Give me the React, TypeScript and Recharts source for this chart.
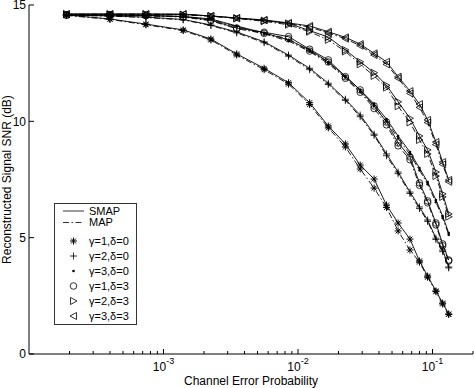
import { Legend, Line, LineChart, XAxis, YAxis } from 'recharts'

// channel error probability (x) shared by every curve
const errorProb = [
  1.9e-4, 4.0e-4, 7.4e-4, 1.4e-3, 2.25e-3, 3.5e-3, 5.6e-3, 8.5e-3, 0.0122, 0.0168, 0.0225,
  0.029, 0.0368, 0.0455, 0.0555, 0.068, 0.08, 0.092, 0.106, 0.119, 0.132,
]

// reconstructed SNR (dB), SMAP and MAP per (gamma, delta)
const g1d0Smap = [14.57, 14.4, 14.18, 13.93, 13.54, 12.9, 12.28, 11.66, 10.8, 9.8, 9.03, 8.12, 7.52, 6.4, 5.63, 4.94, 4.0, 3.35, 2.71, 2.19, 1.72]
const g1d0Map = [14.55, 14.38, 14.15, 13.9, 13.5, 12.85, 12.22, 11.6, 10.72, 9.72, 8.9, 7.95, 7.13, 6.3, 5.29, 4.47, 3.95, 3.3, 2.68, 2.15, 1.7]
const g2d0Smap = [14.57, 14.53, 14.48, 14.38, 14.14, 13.84, 13.42, 12.85, 12.28, 11.64, 10.95, 10.27, 9.45, 8.6, 7.82, 6.96, 6.32, 5.76, 4.98, 4.47, 3.74]
const g2d0Map = [14.56, 14.52, 14.46, 14.36, 14.12, 13.8, 13.38, 12.8, 12.22, 11.58, 10.9, 10.2, 9.4, 8.52, 7.75, 6.9, 6.25, 5.7, 4.92, 4.4, 3.7]
const g3d0Smap = [14.57, 14.57, 14.55, 14.51, 14.4, 14.1, 13.8, 13.5, 13.07, 12.55, 11.95, 11.35, 10.75, 10.1, 9.37, 8.68, 7.99, 7.39, 6.62, 5.93, 5.2]
const g3d0Map = [14.56, 14.56, 14.54, 14.5, 14.38, 14.07, 13.76, 13.45, 13.0, 12.48, 11.88, 11.27, 10.66, 10.0, 9.27, 8.58, 7.9, 7.3, 6.52, 5.85, 5.12]
const g1d3Smap = [14.57, 14.57, 14.55, 14.5, 14.35, 14.01, 13.83, 13.64, 13.1, 12.64, 11.92, 11.35, 10.66, 9.97, 9.07, 8.47, 7.35, 6.58, 5.63, 4.73, 4.04]
const g1d3Map = [14.56, 14.56, 14.54, 14.48, 14.32, 13.98, 13.78, 13.55, 13.02, 12.55, 11.85, 11.25, 10.55, 9.85, 8.95, 8.35, 7.25, 6.5, 5.55, 4.65, 4.0]
const g2d3Smap = [14.61, 14.61, 14.61, 14.59, 14.53, 14.44, 14.33, 14.21, 13.9, 13.62, 13.07, 12.56, 12.09, 11.55, 10.84, 10.13, 9.37, 8.77, 7.82, 6.88, 6.02]
const g2d3Map = [14.6, 14.6, 14.6, 14.58, 14.52, 14.42, 14.3, 14.15, 13.85, 13.5, 13.0, 12.45, 11.95, 11.45, 10.65, 9.95, 9.2, 8.6, 7.65, 6.75, 5.9]
const g3d3Smap = [14.61, 14.61, 14.61, 14.61, 14.53, 14.44, 14.36, 14.23, 14.1, 13.85, 13.61, 13.32, 12.92, 12.56, 11.92, 11.3, 10.74, 10.06, 9.11, 8.25, 7.48]
const g3d3Map = [14.6, 14.6, 14.6, 14.6, 14.52, 14.43, 14.34, 14.2, 14.05, 13.8, 13.55, 13.25, 12.85, 12.45, 11.85, 11.2, 10.6, 9.95, 9.0, 8.15, 7.4]

const xTicks = [
  2e-4, 3e-4, 4e-4, 5e-4, 6e-4, 7e-4, 8e-4, 9e-4, 1e-3,
  2e-3, 3e-3, 4e-3, 5e-3, 6e-3, 7e-3, 8e-3, 9e-3, 1e-2,
  2e-2, 3e-2, 4e-2, 5e-2, 6e-2, 7e-2, 8e-2, 9e-2, 1e-1, 2e-1,
]
const xMajor = [1e-3, 1e-2, 1e-1]
const yTicks = [0, 5, 10, 15]

type MarkerKind = 'star' | 'plus' | 'point' | 'circle' | 'right' | 'left'

const series: { key: string; label: string; marker: MarkerKind; smap: number[]; map: number[] }[] = [
  { key: 'g1d0', label: 'γ=1,δ=0', marker: 'star', smap: g1d0Smap, map: g1d0Map },
  { key: 'g2d0', label: 'γ=2,δ=0', marker: 'plus', smap: g2d0Smap, map: g2d0Map },
  { key: 'g3d0', label: 'γ=3,δ=0', marker: 'point', smap: g3d0Smap, map: g3d0Map },
  { key: 'g1d3', label: 'γ=1,δ=3', marker: 'circle', smap: g1d3Smap, map: g1d3Map },
  { key: 'g2d3', label: 'γ=2,δ=3', marker: 'right', smap: g2d3Smap, map: g2d3Map },
  { key: 'g3d3', label: 'γ=3,δ=3', marker: 'left', smap: g3d3Smap, map: g3d3Map },
]

const data = errorProb.map((p, i) => {
  const row: Record<string, number> = { p }
  series.forEach((s) => {
    row[`${s.key}S`] = s.smap[i]
    row[`${s.key}M`] = s.map[i]
  })
  return row
})

const FONT = '"Liberation Sans", Arial, sans-serif'
const INK = '#000'
const DASH_DOT = '6 2.5 1.5 2.5'

const Marker = ({ kind, cx, cy }: { kind: MarkerKind; cx: number; cy: number }) => {
  const s = 3.5
  const d = 2.5
  const common = { stroke: INK, strokeWidth: 0.8, fill: 'none' }
  switch (kind) {
    case 'star':
      return (
        <g {...common} strokeWidth={1}>
          <line x1={cx - s} y1={cy} x2={cx + s} y2={cy} />
          <line x1={cx} y1={cy - s} x2={cx} y2={cy + s} />
          <line x1={cx - d} y1={cy - d} x2={cx + d} y2={cy + d} />
          <line x1={cx - d} y1={cy + d} x2={cx + d} y2={cy - d} />
        </g>
      )
    case 'plus':
      return (
        <g {...common}>
          <line x1={cx - s} y1={cy} x2={cx + s} y2={cy} />
          <line x1={cx} y1={cy - s} x2={cx} y2={cy + s} />
        </g>
      )
    case 'point':
      return <circle cx={cx} cy={cy} r={1.3} fill={INK} />
    case 'circle':
      return <circle cx={cx} cy={cy} r={3.3} {...common} />
    case 'right':
      return <polygon points={`${cx - 3},${cy - s} ${cx + s},${cy} ${cx - 3},${cy + s}`} {...common} />
    default:
      return <polygon points={`${cx + 3},${cy - s} ${cx - s},${cy} ${cx + 3},${cy + s}`} {...common} />
  }
}

const BottomTick = ({ x, y, payload }: any) => {
  const major = xMajor.includes(payload.value)
  return (
    <g>
      <line x1={x} y1={y} x2={x} y2={y - (major ? 5 : 3)} stroke={INK} />
      {major && (
        <text x={x} y={y + 17} textAnchor="middle" fontSize={12} fontFamily={FONT} fill={INK}>
          10
          <tspan dy={-7} fontSize={9}>
            {Math.round(Math.log10(payload.value))}
          </tspan>
        </text>
      )}
    </g>
  )
}

const TopTick = ({ x, y, payload }: any) => {
  const major = xMajor.includes(payload.value)
  return <line x1={x} y1={y} x2={x} y2={y + (major ? 5 : 3)} stroke={INK} />
}

const LeftTick = ({ x, y, payload }: any) => (
  <g>
    <line x1={x} y1={y} x2={x + 5} y2={y} stroke={INK} />
    <text x={x - 3} y={y} dy="0.35em" textAnchor="end" fontSize={12} fontFamily={FONT} fill={INK}>
      {payload.value}
    </text>
  </g>
)

const RightTick = ({ x, y }: any) => <line x1={x} y1={y} x2={x - 5} y2={y} stroke={INK} />

const YLabel = ({ viewBox }: any) => {
  const cx = viewBox.x + 11
  const cy = viewBox.y + viewBox.height / 2
  return (
    <text x={cx} y={cy} transform={`rotate(-90, ${cx}, ${cy})`} textAnchor="middle" fontSize={12} fontFamily={FONT} fill={INK}>
      Reconstructed Signal SNR (dB)
    </text>
  )
}

const LEGEND_W = 83
const LEGEND_H = 122

const LegendBox = () => (
  <svg width={LEGEND_W} height={LEGEND_H} style={{ display: 'block' }}>
    <rect x={0.5} y={0.5} width={LEGEND_W - 1} height={LEGEND_H - 1} fill="#fff" stroke="#333" />
    <line x1={9} y1={8} x2={30} y2={8} stroke={INK} strokeWidth={0.8} />
    <text x={35} y={8} dy="0.35em" fontSize={11} fontFamily={FONT} fill={INK}>SMAP</text>
    <line x1={9} y1={19.5} x2={30} y2={19.5} stroke={INK} strokeWidth={0.8} strokeDasharray={DASH_DOT} />
    <text x={35} y={19.5} dy="0.35em" fontSize={11} fontFamily={FONT} fill={INK}>MAP</text>
    {series.map((s, i) => (
      <g key={s.key}>
        <Marker kind={s.marker} cx={19.5} cy={38 + i * 15} />
        <text x={35} y={38 + i * 15} dy="0.35em" fontSize={11} fontFamily={FONT} fill={INK}>
          {s.label}
        </text>
      </g>
    ))}
  </svg>
)

export default function App() {
  return (
    <div style={{ position: 'absolute', left: 0, top: 0, background: '#fff' }}>
      <LineChart width={474} height={388} data={data} margin={{ top: 5, right: 1, bottom: 0, left: 0 }}>
        <XAxis
          dataKey="p"
          type="number"
          scale="log"
          domain={[1e-4, 0.2]}
          allowDataOverflow
          ticks={xTicks}
          interval={0}
          height={34}
          tickSize={0}
          tickMargin={0}
          tickLine={false}
          tick={BottomTick}
          axisLine={{ stroke: INK }}
          label={{ value: 'Channel Error Probability', position: 'insideBottom', offset: 3, fontSize: 12, fontFamily: FONT, fill: INK }}
        />
        <XAxis
          xAxisId="top"
          orientation="top"
          dataKey="p"
          type="number"
          scale="log"
          domain={[1e-4, 0.2]}
          allowDataOverflow
          ticks={xTicks}
          interval={0}
          height={0}
          tickSize={0}
          tickMargin={0}
          tickLine={false}
          tick={TopTick}
          axisLine={{ stroke: INK }}
        />
        <YAxis
          type="number"
          domain={[0, 15]}
          allowDataOverflow
          ticks={yTicks}
          interval={0}
          width={29}
          tickSize={0}
          tickMargin={0}
          tickLine={false}
          tick={LeftTick}
          axisLine={{ stroke: INK }}
          label={{ content: YLabel }}
        />
        <YAxis
          yAxisId="right"
          orientation="right"
          type="number"
          domain={[0, 15]}
          allowDataOverflow
          ticks={yTicks}
          interval={0}
          width={0}
          tickSize={0}
          tickMargin={0}
          tickLine={false}
          tick={RightTick}
          axisLine={{ stroke: INK }}
        />
        {series.flatMap((s) => [
          <Line
            key={`${s.key}S`}
            dataKey={`${s.key}S`}
            type="linear"
            stroke={INK}
            strokeWidth={0.9}
            dot={(props: any) => <Marker key={`${s.key}S-${props.index}`} kind={s.marker} cx={props.cx} cy={props.cy} />}
            activeDot={false}
            isAnimationActive={false}
          />,
          <Line
            key={`${s.key}M`}
            dataKey={`${s.key}M`}
            type="linear"
            stroke={INK}
            strokeWidth={0.9}
            strokeDasharray={DASH_DOT}
            dot={(props: any) => <Marker key={`${s.key}M-${props.index}`} kind={s.marker} cx={props.cx} cy={props.cy} />}
            activeDot={false}
            isAnimationActive={false}
          />,
        ])}
        <Legend
          content={LegendBox}
          layout="vertical"
          align="center"
          verticalAlign="middle"
          wrapperStyle={{ left: 54, top: 203, width: LEGEND_W, height: LEGEND_H }}
        />
      </LineChart>
    </div>
  )
}
